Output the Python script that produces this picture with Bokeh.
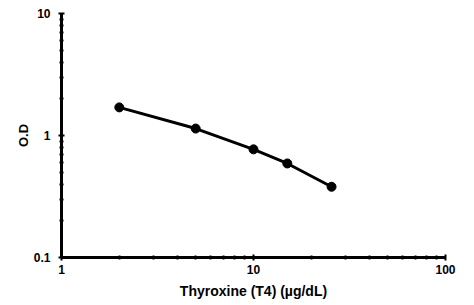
from bokeh.plotting import figure
from bokeh.embed import file_html
from bokeh.resources import INLINE
from bokeh.models import FixedTicker, Range1d, CustomJSTickFormatter

conc = [2, 5, 10, 15, 25.5]
od = [1.70, 1.14, 0.77, 0.59, 0.38]
x_ticks = [1, 10, 100]
y_ticks = [0.1, 1, 10]

p = figure(width=474, height=305, x_axis_type="log", y_axis_type="log",
           x_range=Range1d(1, 100), y_range=Range1d(0.1, 10),
           output_backend="svg", toolbar_location=None,
           min_border_left=61, min_border_right=29, min_border_top=13, min_border_bottom=48)
p.outline_line_color = None
p.xgrid.visible = False
p.ygrid.visible = False

p.line(conc, od, line_color="black", line_width=3)
p.scatter(conc, od, size=9, fill_color="black", line_color="black")

for ax in (p.xaxis[0], p.yaxis[0]):
    ax.axis_line_width = 3
    ax.axis_line_color = "black"
    ax.major_tick_line_width = 2
    ax.major_tick_in = 3
    ax.major_tick_out = 3
    ax.minor_tick_line_width = 2
    ax.minor_tick_in = 2
    ax.minor_tick_out = 2
    ax.formatter = CustomJSTickFormatter(code="return String(Math.round(tick*10)/10);")
    ax.major_label_text_font = "Liberation Sans"
    ax.major_label_text_font_style = "bold"
    ax.major_label_text_font_size = "12px"
    ax.major_label_text_color = "black"
    ax.axis_label_text_font = "Liberation Sans"
    ax.axis_label_text_font_style = "bold"
    ax.axis_label_text_color = "black"

p.xaxis.ticker = FixedTicker(ticks=x_ticks, minor_ticks=[v * m for v in [1, 10] for m in range(2, 10)])
p.yaxis.ticker = FixedTicker(ticks=y_ticks, minor_ticks=[v * m for v in [0.1, 1] for m in range(2, 10)])
p.xaxis.axis_label = "Thyroxine (T4) (µg/dL)"
p.yaxis.axis_label = "O.D"
p.xaxis.axis_label_text_font_size = "14px"
p.yaxis.axis_label_text_font_size = "13px"
p.xaxis.major_label_standoff = 4
p.xaxis.axis_label_standoff = 6
p.yaxis.major_label_standoff = 8
p.yaxis.axis_label_standoff = 0

open("out.html", "w").write(file_html(p, INLINE))
